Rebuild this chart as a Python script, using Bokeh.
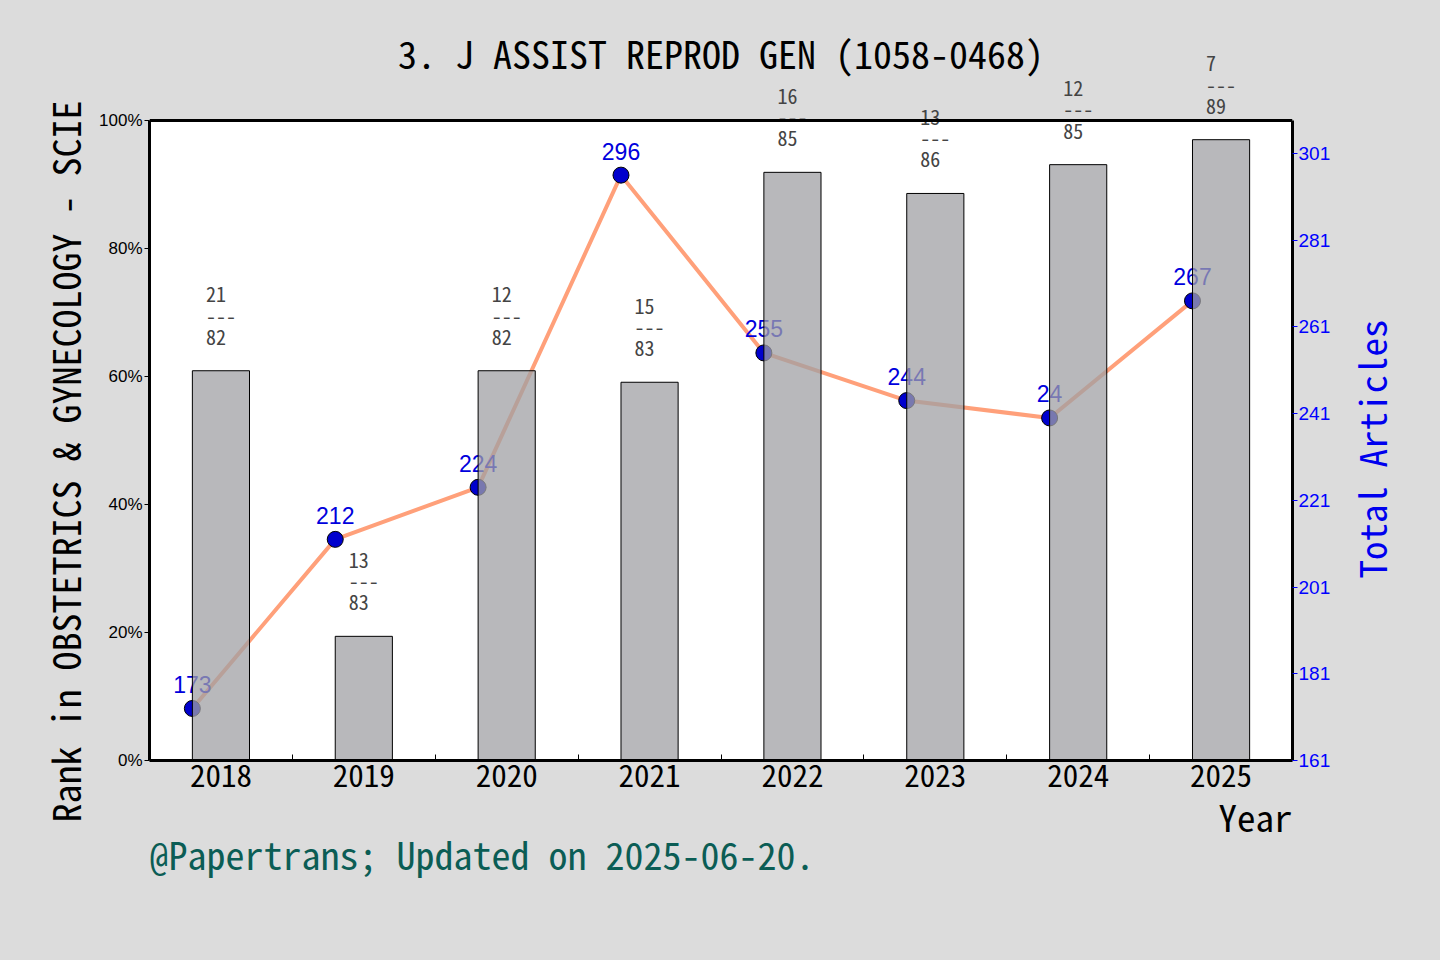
import math
from bokeh.plotting import figure
from bokeh.layouts import row
from bokeh.models import (Range1d, LinearAxis, FixedTicker, ColumnDataSource,
                          Label, LabelSet, Span, BoxAnnotation, Title)
from bokeh.core.properties import value
from bokeh.transform import dodge
from bokeh.embed import file_html
from bokeh.resources import INLINE

# ---------------- data ----------------
years = ["2018", "2019", "2020", "2021", "2022", "2023", "2024", "2025"]
rank_pct = [60.9, 19.4, 60.9, 59.1, 91.9, 88.6, 93.1, 97.0]
rank_pos = [21, 13, 12, 15, 16, 13, 12, 7]
rank_total = [82, 83, 82, 83, 85, 86, 85, 89]
articles = [173, 212, 224, 296, 255, 244, 240, 267]
article_labels = ["173", "212", "224", "296", "255", "244", "24", "267"]
pct_ticks = [0, 20, 40, 60, 80, 100]
article_ticks = [161, 181, 201, 221, 241, 261, 281, 301]
art_min, art_max = 161, 308.6

title_text = "3. J ASSIST REPROD GEN (1058-0468)"
left_label = "Rank in OBSTETRICS & GYNECOLOGY - SCIE"
right_label = "Total Articles"
x_label = "Year"
footer = "@Papertrans; Updated on 2025-06-20."

MONO = "Noto Sans Mono CJK SC, DejaVu Sans Mono, monospace"
SANS = "Liberation Sans, Arial, sans-serif"
BG = "#dcdcdc"

# geometry (pixels)
W, H = 1440, 960
MAIN_W = 1345
F_LEFT, F_RIGHT, F_BOTTOM, F_TOP = 149, 1292, 760, 20
PCT_TOP_PX = 120  # where 100% sits
px_per_pct = (F_BOTTOM - PCT_TOP_PX) / 100.0
y_end = 100 + (PCT_TOP_PX - F_TOP) / px_per_pct
px_per_art = (F_BOTTOM - PCT_TOP_PX) / (art_max - art_min)
art_end = art_min + (F_BOTTOM - F_TOP) / px_per_art
BAR_W = 0.4

xs = [i + 0.5 for i in range(len(years))]
frac = [f"{a}\n---\n{b}" for a, b in zip(rank_pos, rank_total)]
src = ColumnDataSource(dict(x=xs, pct=rank_pct, art=articles,
                            alab=article_labels, frac=frac))

p = figure(width=MAIN_W, height=H, output_backend="svg", toolbar_location=None,
           x_range=Range1d(0, len(years)), y_range=Range1d(0, y_end),
           min_border_left=F_LEFT, min_border_right=MAIN_W - F_RIGHT,
           min_border_top=F_TOP, min_border_bottom=H - F_BOTTOM,
           styles={"background-color": BG})
p.background_fill_color = BG
p.border_fill_color = BG
p.outline_line_color = None
p.xgrid.visible = False
p.ygrid.visible = False

p.extra_y_ranges = {"art": Range1d(art_min, art_end)}

# white plotting area (0..100%)
p.add_layout(BoxAnnotation(bottom=0, top=100, fill_color="white", fill_alpha=1,
                           line_color=None, level="underlay"))

# x axis
xa = p.xaxis[0]
xa.ticker = FixedTicker(ticks=xs, minor_ticks=[i for i in range(1, len(years))])
xa.major_label_overrides = {x: y for x, y in zip(xs, years)}
xa.major_tick_in = 0
xa.major_tick_out = 0
xa.minor_tick_in = 6
xa.minor_tick_out = 0
xa.minor_tick_line_color = "black"
xa.axis_line_width = 3
xa.major_label_text_font = MONO
xa.major_label_text_font_size = "31px"
xa.major_label_text_color = "black"
xa.major_label_standoff = 3

# left axis
ya = p.yaxis[0]
ya.ticker = FixedTicker(ticks=pct_ticks)
ya.bounds = (0, 100)
ya.major_label_overrides = {t: f"{t}%" for t in pct_ticks}
ya.major_tick_in = 0
ya.major_tick_out = 5
ya.minor_tick_line_color = None
ya.axis_line_width = 3
ya.major_label_text_font = SANS
ya.major_label_text_font_size = "17px"
ya.major_label_text_color = "black"
ya.major_label_standoff = 2

# right axis
ra = LinearAxis(y_range_name="art", ticker=FixedTicker(ticks=article_ticks),
                bounds=(art_min, art_max))
ra.major_tick_in = 0
ra.major_tick_out = 5
ra.major_tick_line_color = "blue"
ra.minor_tick_line_color = None
ra.axis_line_width = 3
ra.major_label_text_font = SANS
ra.major_label_text_font_size = "19px"
ra.major_label_text_color = "blue"
ra.major_label_standoff = 1
p.add_layout(ra, "right")

# line + points (points sit at the left edge of each bar)
px = dodge("x", -BAR_W / 2)
p.line(px, "art", source=src, y_range_name="art", line_color="#ffa07a", line_width=4)
p.scatter(px, "art", source=src, y_range_name="art", size=16,
          fill_color="#0000cd", line_color="black", line_width=1)
p.text(px, "art", text="alab", source=src, y_range_name="art",
       text_font=value(SANS), text_font_size="23px", text_color="#0000dd",
       text_align="center", text_baseline="middle", y_offset=-24)

# bars drawn on top (semi transparent)
p.vbar(x="x", top="pct", bottom=0, width=BAR_W, source=src,
       fill_color="#a0a0a4", fill_alpha=0.75, line_color="black", line_width=1)

# fraction labels above bars
ls = LabelSet(x="x", y="pct", text="frac", source=src, text_align="center",
              text_baseline="bottom", y_offset=20, text_font=value(MONO),
              text_font_size="20px", text_color="#444444", text_line_height=0.73)
p.add_layout(ls)

# top border of the plotting area
p.add_layout(Span(location=100, dimension="width", line_color="black", line_width=3))

# chart title
p.add_layout(Label(x=len(years) / 2, y=100 + (PCT_TOP_PX - 52) / px_per_pct,
                   text=title_text, text_align="center",
                   text_baseline="middle", text_font=MONO,
                   text_font_size="38px", text_color="black"))

# side titles
p.add_layout(Title(text=x_label, align="right", text_font=MONO, text_font_size="37px",
                   text_font_style="normal", text_color="black", standoff=-6), "below")
p.add_layout(Title(text=footer, align="left", text_font=MONO, text_font_size="38px",
                   text_font_style="normal", text_color="#0b5d55", standoff=-32), "below")
p.add_layout(Title(text=left_label, align="left", offset=-62, text_font=MONO,
                   text_font_size="38px", text_font_style="normal",
                   text_color="black", standoff=10), "left")

# narrow strip on the right holding the right-axis title
SIDE_W = W - MAIN_W
s = figure(width=SIDE_W, height=H, output_backend="svg", toolbar_location=None,
           x_range=Range1d(0, SIDE_W), y_range=Range1d(0, H),
           x_axis_type=None, y_axis_type=None,
           min_border=0, styles={"background-color": BG})
s.background_fill_color = BG
s.border_fill_color = BG
s.outline_line_color = None
s.xgrid.visible = False
s.ygrid.visible = False
s.add_layout(Label(x=25, y=404, text=right_label, angle=math.pi / 2,
                   text_align="center", text_baseline="middle", text_font=MONO,
                   text_font_size="37px", text_color="#0000ee"))

layout = row(p, s, spacing=0,
             styles={"outline": "2px solid black", "outline-offset": "-2px"})

open("out.html", "w").write(file_html(layout, INLINE))
